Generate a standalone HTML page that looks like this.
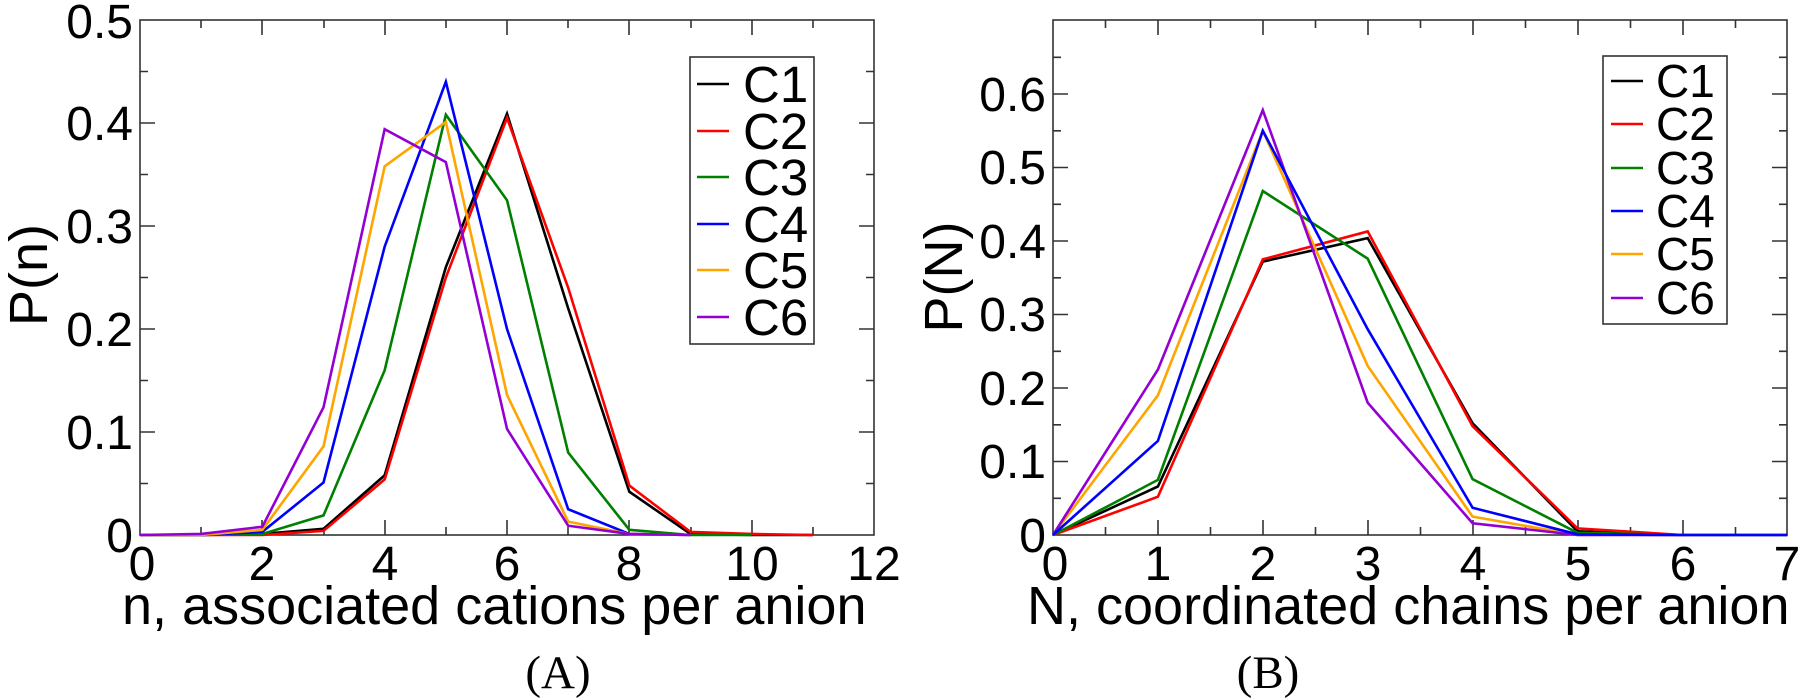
<!DOCTYPE html>
<html><head><meta charset="utf-8"><style>
html,body{margin:0;padding:0;background:#fff;}
svg{display:block;}
text{font-family:"Liberation Sans",sans-serif;fill:#000;}
.t{font-size:48px;}
.ser{font-family:"Liberation Serif",serif;font-size:47px;}
polyline{fill:none;stroke-width:2.6;vector-effect:non-scaling-stroke;stroke-linejoin:miter;}
.ax{stroke:#333;stroke-width:1.6;fill:none;}
</style></head><body>
<svg width="1820" height="700" viewBox="0 0 1820 700" xmlns="http://www.w3.org/2000/svg">
<!-- LEFT PANEL -->
<g class="ax">
<rect x="140" y="20" width="734" height="515"/>
<path d="M201,535v-8M262,535v-15M324,535v-8M385,535v-15M446,535v-8M507,535v-15M568,535v-8M629,535v-15M691,535v-8M752,535v-15M813,535v-8
M201,20v8M262,20v15M324,20v8M385,20v15M446,20v8M507,20v15M568,20v8M629,20v15M691,20v8M752,20v15M813,20v8
M140,483.5h8M140,432h15M140,380.5h8M140,329h15M140,277.5h8M140,226h15M140,174.5h8M140,123h15M140,71.5h8
M874,483.5h-8M874,432h-15M874,380.5h-8M874,329h-15M874,277.5h-8M874,226h-15M874,174.5h-8M874,123h-15M874,71.5h-8"/>
</g>
<g transform="translate(140,535) scale(61.17,-1030)">
<polyline stroke="#000" points="0,0 1,0 2,0.001 3,0.006 4,0.058 5,0.26 6,0.409 7,0.22 8,0.042 9,0.001 10,0 11,0"/>
<polyline stroke="#ff0000" points="0,0 1,0 2,0 3,0.004 4,0.054 5,0.25 6,0.405 7,0.24 8,0.048 9,0.003 10,0.001 11,0"/>
<polyline stroke="#008000" points="0,0 1,0 2,0.001 3,0.019 4,0.16 5,0.408 6,0.325 7,0.08 8,0.005 9,0 10,0"/>
<polyline stroke="#0000ff" points="0,0 1,0 2,0.003 3,0.051 4,0.28 5,0.44 6,0.2 7,0.025 8,0.001 9,0"/>
<polyline stroke="#ffa500" points="0,0 1,0 2,0.005 3,0.086 4,0.358 5,0.401 6,0.136 7,0.013 8,0.001 9,0"/>
<polyline stroke="#9400d3" points="0,0 1,0.001 2,0.008 3,0.124 4,0.394 5,0.362 6,0.103 7,0.009 8,0.001 9,0"/>
</g>
<g class="t" text-anchor="end">
<text x="133" y="552">0</text>
<text x="133" y="449">0.1</text>
<text x="133" y="346">0.2</text>
<text x="133" y="243">0.3</text>
<text x="133" y="140">0.4</text>
<text x="133" y="38">0.5</text>
</g>
<g class="t" text-anchor="middle">
<text x="142" y="580">0</text>
<text x="262" y="580">2</text>
<text x="385" y="580">4</text>
<text x="507" y="580">6</text>
<text x="629" y="580">8</text>
<text x="752" y="580">10</text>
<text x="874" y="580">12</text>
</g>
<text x="122" y="624" font-size="54">n, associated cations per anion</text>
<text transform="translate(47,275) rotate(-90)" text-anchor="middle" font-size="54">P(n)</text>
<text class="ser" x="558" y="688" text-anchor="middle">(A)</text>
<rect x="690" y="57" width="124" height="287" fill="#fff" stroke="#333" stroke-width="1.6"/>
<g stroke-width="2.6">
<line x1="697" x2="729" y1="84" y2="84" stroke="#000"/>
<line x1="697" x2="729" y1="131" y2="131" stroke="#ff0000"/>
<line x1="697" x2="729" y1="177" y2="177" stroke="#008000"/>
<line x1="697" x2="729" y1="224" y2="224" stroke="#0000ff"/>
<line x1="697" x2="729" y1="270" y2="270" stroke="#ffa500"/>
<line x1="697" x2="729" y1="317" y2="317" stroke="#9400d3"/>
</g>
<g font-size="51">
<text x="743" y="102">C1</text>
<text x="743" y="149">C2</text>
<text x="743" y="195">C3</text>
<text x="743" y="242">C4</text>
<text x="743" y="288">C5</text>
<text x="743" y="335">C6</text>
</g>

<!-- RIGHT PANEL -->
<g class="ax">
<rect x="1053" y="20" width="734" height="515"/>
<path d="M1105.5,535v-8M1158,535v-15M1210.5,535v-8M1263,535v-15M1315.5,535v-8M1368,535v-15M1420.5,535v-8M1473,535v-15M1525.5,535v-8M1578,535v-15M1630.5,535v-8M1683,535v-15M1735.5,535v-8
M1105.5,20v8M1158,20v15M1210.5,20v8M1263,20v15M1315.5,20v8M1368,20v15M1420.5,20v8M1473,20v15M1525.5,20v8M1578,20v15M1630.5,20v8M1683,20v15M1735.5,20v8
M1053,498.3h8M1053,461.5h15M1053,424.8h8M1053,388h15M1053,351.3h8M1053,314.5h15M1053,277.8h8M1053,241h15M1053,204.3h8M1053,167.5h15M1053,130.8h8M1053,94h15M1053,57.3h8
M1787,498.3h-8M1787,461.5h-15M1787,424.8h-8M1787,388h-15M1787,351.3h-8M1787,314.5h-15M1787,277.8h-8M1787,241h-15M1787,204.3h-8M1787,167.5h-15M1787,130.8h-8M1787,94h-15M1787,57.3h-8"/>
</g>
<g transform="translate(1053,535) scale(104.9,-735)">
<polyline stroke="#000" points="0,0 1,0.066 2,0.372 3,0.404 4,0.152 5,0.005 6,0 7,0"/>
<polyline stroke="#ff0000" points="0,0 1,0.052 2,0.375 3,0.413 4,0.148 5,0.009 6,0"/>
<polyline stroke="#008000" points="0,0 1,0.075 2,0.468 3,0.376 4,0.076 5,0.003 6,0"/>
<polyline stroke="#ffa500" points="0,0 1,0.19 2,0.55 3,0.23 4,0.025 5,0 6,0"/>
<polyline stroke="#9400d3" points="0,0 1,0.225 2,0.578 3,0.18 4,0.016 5,0 6,0"/>
<polyline stroke="#0000ff" points="0,0 1,0.128 2,0.55 3,0.28 4,0.037 5,0.001 6,0 7,0"/>
</g>
<g class="t" text-anchor="end">
<text x="1046" y="552">0</text>
<text x="1046" y="478">0.1</text>
<text x="1046" y="405">0.2</text>
<text x="1046" y="331">0.3</text>
<text x="1046" y="258">0.4</text>
<text x="1046" y="184">0.5</text>
<text x="1046" y="111">0.6</text>
</g>
<g class="t" text-anchor="middle">
<text x="1055" y="580">0</text>
<text x="1158" y="580">1</text>
<text x="1263" y="580">2</text>
<text x="1368" y="580">3</text>
<text x="1473" y="580">4</text>
<text x="1578" y="580">5</text>
<text x="1683" y="580">6</text>
<text x="1787" y="580">7</text>
</g>
<text x="1027" y="624" font-size="54">N, coordinated chains per anion</text>
<text transform="translate(962,277) rotate(-90)" text-anchor="middle" font-size="54">P(N)</text>
<text class="ser" x="1268" y="688" text-anchor="middle">(B)</text>
<rect x="1603" y="56" width="124" height="268" fill="#fff" stroke="#333" stroke-width="1.6"/>
<g stroke-width="2.6">
<line x1="1611" x2="1643" y1="81" y2="81" stroke="#000"/>
<line x1="1611" x2="1643" y1="124" y2="124" stroke="#ff0000"/>
<line x1="1611" x2="1643" y1="168" y2="168" stroke="#008000"/>
<line x1="1611" x2="1643" y1="211" y2="211" stroke="#0000ff"/>
<line x1="1611" x2="1643" y1="254" y2="254" stroke="#ffa500"/>
<line x1="1611" x2="1643" y1="298" y2="298" stroke="#9400d3"/>
</g>
<g font-size="46">
<text x="1656" y="97">C1</text>
<text x="1656" y="140">C2</text>
<text x="1656" y="184">C3</text>
<text x="1656" y="227">C4</text>
<text x="1656" y="270">C5</text>
<text x="1656" y="314">C6</text>
</g>
</svg>
</body></html>
